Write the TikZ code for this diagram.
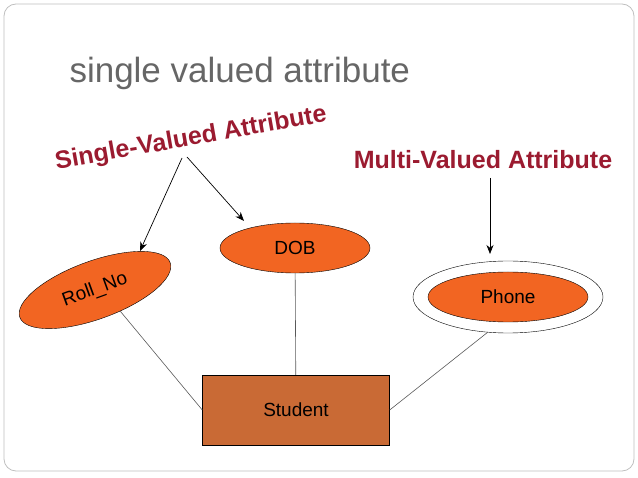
\documentclass[tikz,border=0pt]{standalone}
\usepackage{fontspec}
\setmainfont{Liberation Sans}
\usetikzlibrary{shapes.geometric,arrows.meta}
\definecolor{orng}{HTML}{F26522}
\definecolor{brn}{HTML}{C96A35}
\definecolor{dred}{HTML}{9B1B30}
\tikzset{
 attr/.style={ellipse,draw=black,fill=orng,inner sep=0pt,font=\fontsize{19}{22}\selectfont},
 lbl/.style={text=dred,font=\bfseries\fontsize{25}{28}\selectfont,inner sep=1pt},
 link/.style={draw=gray!70!black,line width=0.6pt},
 arr/.style={-{Stealth[length=9pt,width=7pt]},line width=0.7pt}
}
\begin{document}
\begin{tikzpicture}[x=1pt,y=-1pt]
\useasboundingbox (0,0) rectangle (638,478);
\draw[gray!50,rounded corners=12pt,line width=0.8pt] (4,4) rectangle (634,471);
\node[anchor=west,text=gray!80!black,font=\fontsize{35}{40}\selectfont] (title) at (66,73) {single valued attribute};
\node[lbl,rotate=10] (sva) at (191,139) {Single-Valued Attribute};
\node[lbl] (mva) at (483,160) {Multi-Valued Attribute};
\node[attr,minimum width=160pt,minimum height=58pt,rotate=20] (roll) at (95,290) {Roll\_No};
\node[attr,minimum width=150pt,minimum height=50pt] (dob) at (295,248) {DOB};
\node[ellipse,draw=black,fill=white,minimum width=190pt,minimum height=72pt] (phoneo) at (508,297) {};
\node[attr,minimum width=160pt,minimum height=50pt] (phone) at (508,297) {Phone};
\node[draw=black,fill=brn,minimum width=187pt,minimum height=70pt,font=\fontsize{19}{22}\selectfont] (stu) at (296,410) {Student};
\draw[link] (roll.300) -- (stu.west);
\draw[link] (dob) -- (stu);
\draw[link] (phoneo.240) -- (stu.east);
\coordinate (a1) at (182,158);
\coordinate (a2) at (187,157);
\coordinate (a3) at (490,178);
\draw[arr] (a1) -- (140,251);
\draw[arr] (a2) -- (244,221);
\draw[arr] (a3) -- (490,254);
\end{tikzpicture}
\end{document}
